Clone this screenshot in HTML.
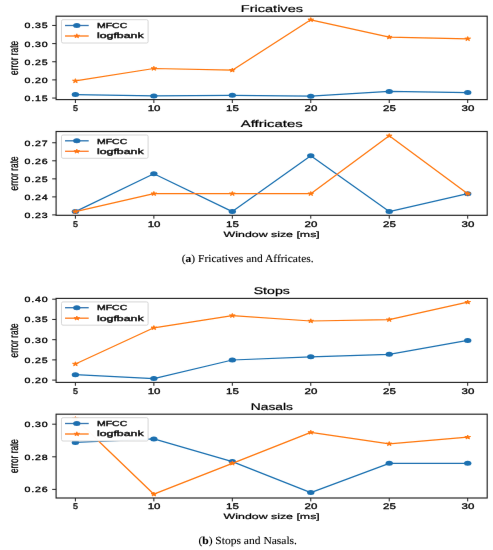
<!DOCTYPE html><html><head><meta charset="utf-8"><style>html,body{margin:0;padding:0;background:#fff;}svg{display:block;}text{text-rendering:geometricPrecision;font-family:"Liberation Sans",sans-serif;fill:#000;stroke:#000;stroke-width:0.25px;}.serif{font-family:"Liberation Serif",serif;}</style></head><body>
<svg width="493" height="550" viewBox="0 0 493 550">
<defs><filter id="bl" x="0" y="0" width="493" height="550" filterUnits="userSpaceOnUse"><feConvolveMatrix order="3" kernelMatrix="0.00087 0.02776 0.00087 0.02776 0.88549 0.02776 0.00087 0.02776 0.00087" edgeMode="none"/></filter></defs>
<rect width="493" height="550" fill="#fff"/><g filter="url(#bl)">
<g clip-path="none">
<polyline points="75.40,94.60 153.86,95.90 232.32,95.30 310.78,96.20 389.24,91.40 467.70,92.60" fill="none" stroke="#1a70b0" stroke-width="1.25" stroke-linejoin="round" stroke-linecap="butt"/>
<ellipse cx="75.40" cy="94.60" rx="3.70" ry="2.50" fill="#1a70b0"/>
<ellipse cx="153.86" cy="95.90" rx="3.70" ry="2.50" fill="#1a70b0"/>
<ellipse cx="232.32" cy="95.30" rx="3.70" ry="2.50" fill="#1a70b0"/>
<ellipse cx="310.78" cy="96.20" rx="3.70" ry="2.50" fill="#1a70b0"/>
<ellipse cx="389.24" cy="91.40" rx="3.70" ry="2.50" fill="#1a70b0"/>
<ellipse cx="467.70" cy="92.60" rx="3.70" ry="2.50" fill="#1a70b0"/>
<polyline points="75.40,80.90 153.86,68.50 232.32,70.20 310.78,19.80 389.24,37.10 467.70,38.80" fill="none" stroke="#ff760a" stroke-width="1.25" stroke-linejoin="round" stroke-linecap="butt"/>
<polygon points="75.40,78.70 76.07,80.22 78.25,80.22 76.49,81.16 77.16,82.68 75.40,81.74 73.64,82.68 74.31,81.16 72.55,80.22 74.73,80.22" fill="#ff760a" stroke="#ff760a" stroke-width="0.9" stroke-linejoin="round"/>
<polygon points="153.86,66.30 154.53,67.82 156.71,67.82 154.95,68.76 155.62,70.28 153.86,69.34 152.10,70.28 152.77,68.76 151.01,67.82 153.19,67.82" fill="#ff760a" stroke="#ff760a" stroke-width="0.9" stroke-linejoin="round"/>
<polygon points="232.32,68.00 232.99,69.52 235.17,69.52 233.41,70.46 234.08,71.98 232.32,71.04 230.56,71.98 231.23,70.46 229.47,69.52 231.65,69.52" fill="#ff760a" stroke="#ff760a" stroke-width="0.9" stroke-linejoin="round"/>
<polygon points="310.78,17.60 311.45,19.12 313.63,19.12 311.87,20.06 312.54,21.58 310.78,20.64 309.02,21.58 309.69,20.06 307.93,19.12 310.11,19.12" fill="#ff760a" stroke="#ff760a" stroke-width="0.9" stroke-linejoin="round"/>
<polygon points="389.24,34.90 389.91,36.42 392.09,36.42 390.33,37.36 391.00,38.88 389.24,37.94 387.48,38.88 388.15,37.36 386.39,36.42 388.57,36.42" fill="#ff760a" stroke="#ff760a" stroke-width="0.9" stroke-linejoin="round"/>
<polygon points="467.70,36.60 468.37,38.12 470.55,38.12 468.79,39.06 469.46,40.58 467.70,39.64 465.94,40.58 466.61,39.06 464.85,38.12 467.03,38.12" fill="#ff760a" stroke="#ff760a" stroke-width="0.9" stroke-linejoin="round"/>
</g>
<rect x="61.5" y="19.70" width="86.6" height="23.3" rx="1.5" fill="#fff" fill-opacity="0.97" stroke="#cccccc" stroke-width="0.8"/>
<line x1="65" y1="25.50" x2="88.7" y2="25.50" stroke="#1a70b0" stroke-width="1.3"/>
<ellipse cx="76.80" cy="25.50" rx="3.70" ry="2.50" fill="#1a70b0"/>
<line x1="65" y1="36.00" x2="88.7" y2="36.00" stroke="#ff760a" stroke-width="1.3"/>
<polygon points="76.80,33.80 77.47,35.32 79.65,35.32 77.89,36.26 78.56,37.78 76.80,36.84 75.04,37.78 75.71,36.26 73.95,35.32 76.13,35.32" fill="#ff760a" stroke="#ff760a" stroke-width="0.9" stroke-linejoin="round"/>
<text x="97.00" y="28.20" font-size="7.30" text-anchor="start" textLength="30.20" lengthAdjust="spacingAndGlyphs" style="stroke-width:0.4px">MFCC</text>
<text x="97.00" y="38.40" font-size="7.50" text-anchor="start" textLength="46.60" lengthAdjust="spacingAndGlyphs" style="stroke-width:0.4px">logfbank</text>
<rect x="56.10" y="16.20" width="431.10" height="83.40" fill="none" stroke="#222" stroke-width="1.15"/>
<line x1="52.2" y1="25.45" x2="56.10" y2="25.45" stroke="#222" stroke-width="1.0"/>
<text transform="translate(24.60,28.45) scale(1.380,1)" x="0" y="0" font-size="7.70" textLength="16.67" lengthAdjust="spacing" style="stroke-width:0.32px">0.35</text>
<line x1="52.2" y1="43.60" x2="56.10" y2="43.60" stroke="#222" stroke-width="1.0"/>
<text transform="translate(24.60,46.60) scale(1.380,1)" x="0" y="0" font-size="7.70" textLength="16.67" lengthAdjust="spacing" style="stroke-width:0.32px">0.30</text>
<line x1="52.2" y1="61.75" x2="56.10" y2="61.75" stroke="#222" stroke-width="1.0"/>
<text transform="translate(24.60,64.75) scale(1.380,1)" x="0" y="0" font-size="7.70" textLength="16.67" lengthAdjust="spacing" style="stroke-width:0.32px">0.25</text>
<line x1="52.2" y1="79.90" x2="56.10" y2="79.90" stroke="#222" stroke-width="1.0"/>
<text transform="translate(24.60,82.90) scale(1.380,1)" x="0" y="0" font-size="7.70" textLength="16.67" lengthAdjust="spacing" style="stroke-width:0.32px">0.20</text>
<line x1="52.2" y1="98.05" x2="56.10" y2="98.05" stroke="#222" stroke-width="1.0"/>
<text transform="translate(24.60,101.05) scale(1.380,1)" x="0" y="0" font-size="7.70" textLength="16.67" lengthAdjust="spacing" style="stroke-width:0.32px">0.15</text>
<line x1="75.40" y1="99.60" x2="75.40" y2="103.00" stroke="#222" stroke-width="1.0"/>
<text x="73.10" y="110.80" font-size="8.20" text-anchor="start" textLength="5.00" lengthAdjust="spacingAndGlyphs" style="stroke-width:0.3px">5</text>
<line x1="153.86" y1="99.60" x2="153.86" y2="103.00" stroke="#222" stroke-width="1.0"/>
<text x="147.66" y="110.80" font-size="8.20" text-anchor="start" textLength="12.80" lengthAdjust="spacingAndGlyphs" style="stroke-width:0.3px">10</text>
<line x1="232.32" y1="99.60" x2="232.32" y2="103.00" stroke="#222" stroke-width="1.0"/>
<text x="226.12" y="110.80" font-size="8.20" text-anchor="start" textLength="12.80" lengthAdjust="spacingAndGlyphs" style="stroke-width:0.3px">15</text>
<line x1="310.78" y1="99.60" x2="310.78" y2="103.00" stroke="#222" stroke-width="1.0"/>
<text x="304.58" y="110.80" font-size="8.20" text-anchor="start" textLength="12.80" lengthAdjust="spacingAndGlyphs" style="stroke-width:0.3px">20</text>
<line x1="389.24" y1="99.60" x2="389.24" y2="103.00" stroke="#222" stroke-width="1.0"/>
<text x="383.04" y="110.80" font-size="8.20" text-anchor="start" textLength="12.80" lengthAdjust="spacingAndGlyphs" style="stroke-width:0.3px">25</text>
<line x1="467.70" y1="99.60" x2="467.70" y2="103.00" stroke="#222" stroke-width="1.0"/>
<text x="461.50" y="110.80" font-size="8.20" text-anchor="start" textLength="12.80" lengthAdjust="spacingAndGlyphs" style="stroke-width:0.3px">30</text>
<text x="240.80" y="11.60" font-size="9.80" text-anchor="start" textLength="62.20" lengthAdjust="spacingAndGlyphs" style="stroke-width:0.2px">Fricatives</text>
<text transform="translate(17.8,57.90) rotate(-90)" x="0" y="0" font-size="12.2" text-anchor="middle" style="stroke-width:0.3px" textLength="34" lengthAdjust="spacingAndGlyphs">error rate</text>
<g clip-path="none">
<polyline points="75.40,211.60 153.86,173.80 232.32,211.60 310.78,155.80 389.24,211.60 467.70,193.70" fill="none" stroke="#1a70b0" stroke-width="1.25" stroke-linejoin="round" stroke-linecap="butt"/>
<ellipse cx="75.40" cy="211.60" rx="3.70" ry="2.50" fill="#1a70b0"/>
<ellipse cx="153.86" cy="173.80" rx="3.70" ry="2.50" fill="#1a70b0"/>
<ellipse cx="232.32" cy="211.60" rx="3.70" ry="2.50" fill="#1a70b0"/>
<ellipse cx="310.78" cy="155.80" rx="3.70" ry="2.50" fill="#1a70b0"/>
<ellipse cx="389.24" cy="211.60" rx="3.70" ry="2.50" fill="#1a70b0"/>
<ellipse cx="467.70" cy="193.70" rx="3.70" ry="2.50" fill="#1a70b0"/>
<polyline points="75.40,211.60 153.86,193.70 232.32,193.70 310.78,193.70 389.24,135.80 467.70,193.70" fill="none" stroke="#ff760a" stroke-width="1.25" stroke-linejoin="round" stroke-linecap="butt"/>
<polygon points="75.40,209.40 76.07,210.92 78.25,210.92 76.49,211.86 77.16,213.38 75.40,212.44 73.64,213.38 74.31,211.86 72.55,210.92 74.73,210.92" fill="#ff760a" stroke="#ff760a" stroke-width="0.9" stroke-linejoin="round"/>
<polygon points="153.86,191.50 154.53,193.02 156.71,193.02 154.95,193.96 155.62,195.48 153.86,194.54 152.10,195.48 152.77,193.96 151.01,193.02 153.19,193.02" fill="#ff760a" stroke="#ff760a" stroke-width="0.9" stroke-linejoin="round"/>
<polygon points="232.32,191.50 232.99,193.02 235.17,193.02 233.41,193.96 234.08,195.48 232.32,194.54 230.56,195.48 231.23,193.96 229.47,193.02 231.65,193.02" fill="#ff760a" stroke="#ff760a" stroke-width="0.9" stroke-linejoin="round"/>
<polygon points="310.78,191.50 311.45,193.02 313.63,193.02 311.87,193.96 312.54,195.48 310.78,194.54 309.02,195.48 309.69,193.96 307.93,193.02 310.11,193.02" fill="#ff760a" stroke="#ff760a" stroke-width="0.9" stroke-linejoin="round"/>
<polygon points="389.24,133.60 389.91,135.12 392.09,135.12 390.33,136.06 391.00,137.58 389.24,136.64 387.48,137.58 388.15,136.06 386.39,135.12 388.57,135.12" fill="#ff760a" stroke="#ff760a" stroke-width="0.9" stroke-linejoin="round"/>
<polygon points="467.70,191.50 468.37,193.02 470.55,193.02 468.79,193.96 469.46,195.48 467.70,194.54 465.94,195.48 466.61,193.96 464.85,193.02 467.03,193.02" fill="#ff760a" stroke="#ff760a" stroke-width="0.9" stroke-linejoin="round"/>
</g>
<rect x="61.5" y="135.00" width="86.6" height="23.3" rx="1.5" fill="#fff" fill-opacity="0.97" stroke="#cccccc" stroke-width="0.8"/>
<line x1="65" y1="140.80" x2="88.7" y2="140.80" stroke="#1a70b0" stroke-width="1.3"/>
<ellipse cx="76.80" cy="140.80" rx="3.70" ry="2.50" fill="#1a70b0"/>
<line x1="65" y1="151.30" x2="88.7" y2="151.30" stroke="#ff760a" stroke-width="1.3"/>
<polygon points="76.80,149.10 77.47,150.62 79.65,150.62 77.89,151.56 78.56,153.08 76.80,152.14 75.04,153.08 75.71,151.56 73.95,150.62 76.13,150.62" fill="#ff760a" stroke="#ff760a" stroke-width="0.9" stroke-linejoin="round"/>
<text x="97.00" y="143.50" font-size="7.30" text-anchor="start" textLength="30.20" lengthAdjust="spacingAndGlyphs" style="stroke-width:0.4px">MFCC</text>
<text x="97.00" y="153.70" font-size="7.50" text-anchor="start" textLength="46.60" lengthAdjust="spacingAndGlyphs" style="stroke-width:0.4px">logfbank</text>
<rect x="56.10" y="131.50" width="431.10" height="83.80" fill="none" stroke="#222" stroke-width="1.15"/>
<line x1="52.2" y1="142.75" x2="56.10" y2="142.75" stroke="#222" stroke-width="1.0"/>
<text transform="translate(24.60,145.75) scale(1.380,1)" x="0" y="0" font-size="7.70" textLength="16.67" lengthAdjust="spacing" style="stroke-width:0.32px">0.27</text>
<line x1="52.2" y1="160.80" x2="56.10" y2="160.80" stroke="#222" stroke-width="1.0"/>
<text transform="translate(24.60,163.80) scale(1.380,1)" x="0" y="0" font-size="7.70" textLength="16.67" lengthAdjust="spacing" style="stroke-width:0.32px">0.26</text>
<line x1="52.2" y1="178.85" x2="56.10" y2="178.85" stroke="#222" stroke-width="1.0"/>
<text transform="translate(24.60,181.85) scale(1.380,1)" x="0" y="0" font-size="7.70" textLength="16.67" lengthAdjust="spacing" style="stroke-width:0.32px">0.25</text>
<line x1="52.2" y1="196.90" x2="56.10" y2="196.90" stroke="#222" stroke-width="1.0"/>
<text transform="translate(24.60,199.90) scale(1.380,1)" x="0" y="0" font-size="7.70" textLength="16.67" lengthAdjust="spacing" style="stroke-width:0.32px">0.24</text>
<line x1="52.2" y1="214.90" x2="56.10" y2="214.90" stroke="#222" stroke-width="1.0"/>
<text transform="translate(24.60,217.90) scale(1.380,1)" x="0" y="0" font-size="7.70" textLength="16.67" lengthAdjust="spacing" style="stroke-width:0.32px">0.23</text>
<line x1="75.40" y1="215.30" x2="75.40" y2="218.70" stroke="#222" stroke-width="1.0"/>
<text x="73.10" y="226.50" font-size="8.20" text-anchor="start" textLength="5.00" lengthAdjust="spacingAndGlyphs" style="stroke-width:0.3px">5</text>
<line x1="153.86" y1="215.30" x2="153.86" y2="218.70" stroke="#222" stroke-width="1.0"/>
<text x="147.66" y="226.50" font-size="8.20" text-anchor="start" textLength="12.80" lengthAdjust="spacingAndGlyphs" style="stroke-width:0.3px">10</text>
<line x1="232.32" y1="215.30" x2="232.32" y2="218.70" stroke="#222" stroke-width="1.0"/>
<text x="226.12" y="226.50" font-size="8.20" text-anchor="start" textLength="12.80" lengthAdjust="spacingAndGlyphs" style="stroke-width:0.3px">15</text>
<line x1="310.78" y1="215.30" x2="310.78" y2="218.70" stroke="#222" stroke-width="1.0"/>
<text x="304.58" y="226.50" font-size="8.20" text-anchor="start" textLength="12.80" lengthAdjust="spacingAndGlyphs" style="stroke-width:0.3px">20</text>
<line x1="389.24" y1="215.30" x2="389.24" y2="218.70" stroke="#222" stroke-width="1.0"/>
<text x="383.04" y="226.50" font-size="8.20" text-anchor="start" textLength="12.80" lengthAdjust="spacingAndGlyphs" style="stroke-width:0.3px">25</text>
<line x1="467.70" y1="215.30" x2="467.70" y2="218.70" stroke="#222" stroke-width="1.0"/>
<text x="461.50" y="226.50" font-size="8.20" text-anchor="start" textLength="12.80" lengthAdjust="spacingAndGlyphs" style="stroke-width:0.3px">30</text>
<text x="240.80" y="127.35" font-size="9.80" text-anchor="start" textLength="61.90" lengthAdjust="spacingAndGlyphs" style="stroke-width:0.2px">Affricates</text>
<text transform="translate(17.8,173.40) rotate(-90)" x="0" y="0" font-size="12.2" text-anchor="middle" style="stroke-width:0.3px" textLength="34" lengthAdjust="spacingAndGlyphs">error rate</text>
<text x="223.60" y="236.70" font-size="7.70" text-anchor="start" textLength="96.20" lengthAdjust="spacingAndGlyphs" style="stroke-width:0.22px">Window size [ms]</text>
<g clip-path="none">
<polyline points="75.40,374.70 153.86,378.60 232.32,360.00 310.78,356.80 389.24,354.30 467.70,340.40" fill="none" stroke="#1a70b0" stroke-width="1.25" stroke-linejoin="round" stroke-linecap="butt"/>
<ellipse cx="75.40" cy="374.70" rx="3.70" ry="2.50" fill="#1a70b0"/>
<ellipse cx="153.86" cy="378.60" rx="3.70" ry="2.50" fill="#1a70b0"/>
<ellipse cx="232.32" cy="360.00" rx="3.70" ry="2.50" fill="#1a70b0"/>
<ellipse cx="310.78" cy="356.80" rx="3.70" ry="2.50" fill="#1a70b0"/>
<ellipse cx="389.24" cy="354.30" rx="3.70" ry="2.50" fill="#1a70b0"/>
<ellipse cx="467.70" cy="340.40" rx="3.70" ry="2.50" fill="#1a70b0"/>
<polyline points="75.40,364.00 153.86,327.80 232.32,315.60 310.78,321.00 389.24,319.70 467.70,302.20" fill="none" stroke="#ff760a" stroke-width="1.25" stroke-linejoin="round" stroke-linecap="butt"/>
<polygon points="75.40,361.80 76.07,363.32 78.25,363.32 76.49,364.26 77.16,365.78 75.40,364.84 73.64,365.78 74.31,364.26 72.55,363.32 74.73,363.32" fill="#ff760a" stroke="#ff760a" stroke-width="0.9" stroke-linejoin="round"/>
<polygon points="153.86,325.60 154.53,327.12 156.71,327.12 154.95,328.06 155.62,329.58 153.86,328.64 152.10,329.58 152.77,328.06 151.01,327.12 153.19,327.12" fill="#ff760a" stroke="#ff760a" stroke-width="0.9" stroke-linejoin="round"/>
<polygon points="232.32,313.40 232.99,314.92 235.17,314.92 233.41,315.86 234.08,317.38 232.32,316.44 230.56,317.38 231.23,315.86 229.47,314.92 231.65,314.92" fill="#ff760a" stroke="#ff760a" stroke-width="0.9" stroke-linejoin="round"/>
<polygon points="310.78,318.80 311.45,320.32 313.63,320.32 311.87,321.26 312.54,322.78 310.78,321.84 309.02,322.78 309.69,321.26 307.93,320.32 310.11,320.32" fill="#ff760a" stroke="#ff760a" stroke-width="0.9" stroke-linejoin="round"/>
<polygon points="389.24,317.50 389.91,319.02 392.09,319.02 390.33,319.96 391.00,321.48 389.24,320.54 387.48,321.48 388.15,319.96 386.39,319.02 388.57,319.02" fill="#ff760a" stroke="#ff760a" stroke-width="0.9" stroke-linejoin="round"/>
<polygon points="467.70,300.00 468.37,301.52 470.55,301.52 468.79,302.46 469.46,303.98 467.70,303.04 465.94,303.98 466.61,302.46 464.85,301.52 467.03,301.52" fill="#ff760a" stroke="#ff760a" stroke-width="0.9" stroke-linejoin="round"/>
</g>
<rect x="61.5" y="301.90" width="86.6" height="23.3" rx="1.5" fill="#fff" fill-opacity="0.97" stroke="#cccccc" stroke-width="0.8"/>
<line x1="65" y1="307.70" x2="88.7" y2="307.70" stroke="#1a70b0" stroke-width="1.3"/>
<ellipse cx="76.80" cy="307.70" rx="3.70" ry="2.50" fill="#1a70b0"/>
<line x1="65" y1="318.20" x2="88.7" y2="318.20" stroke="#ff760a" stroke-width="1.3"/>
<polygon points="76.80,316.00 77.47,317.52 79.65,317.52 77.89,318.46 78.56,319.98 76.80,319.04 75.04,319.98 75.71,318.46 73.95,317.52 76.13,317.52" fill="#ff760a" stroke="#ff760a" stroke-width="0.9" stroke-linejoin="round"/>
<text x="97.00" y="310.40" font-size="7.30" text-anchor="start" textLength="30.20" lengthAdjust="spacingAndGlyphs" style="stroke-width:0.4px">MFCC</text>
<text x="97.00" y="320.60" font-size="7.50" text-anchor="start" textLength="46.60" lengthAdjust="spacingAndGlyphs" style="stroke-width:0.4px">logfbank</text>
<rect x="56.10" y="298.40" width="431.10" height="84.00" fill="none" stroke="#222" stroke-width="1.15"/>
<line x1="52.2" y1="299.20" x2="56.10" y2="299.20" stroke="#222" stroke-width="1.0"/>
<text transform="translate(24.60,302.20) scale(1.380,1)" x="0" y="0" font-size="7.70" textLength="16.67" lengthAdjust="spacing" style="stroke-width:0.32px">0.40</text>
<line x1="52.2" y1="319.45" x2="56.10" y2="319.45" stroke="#222" stroke-width="1.0"/>
<text transform="translate(24.60,322.45) scale(1.380,1)" x="0" y="0" font-size="7.70" textLength="16.67" lengthAdjust="spacing" style="stroke-width:0.32px">0.35</text>
<line x1="52.2" y1="339.70" x2="56.10" y2="339.70" stroke="#222" stroke-width="1.0"/>
<text transform="translate(24.60,342.70) scale(1.380,1)" x="0" y="0" font-size="7.70" textLength="16.67" lengthAdjust="spacing" style="stroke-width:0.32px">0.30</text>
<line x1="52.2" y1="359.90" x2="56.10" y2="359.90" stroke="#222" stroke-width="1.0"/>
<text transform="translate(24.60,362.90) scale(1.380,1)" x="0" y="0" font-size="7.70" textLength="16.67" lengthAdjust="spacing" style="stroke-width:0.32px">0.25</text>
<line x1="52.2" y1="380.10" x2="56.10" y2="380.10" stroke="#222" stroke-width="1.0"/>
<text transform="translate(24.60,383.10) scale(1.380,1)" x="0" y="0" font-size="7.70" textLength="16.67" lengthAdjust="spacing" style="stroke-width:0.32px">0.20</text>
<line x1="75.40" y1="382.40" x2="75.40" y2="385.80" stroke="#222" stroke-width="1.0"/>
<text x="73.10" y="393.60" font-size="8.20" text-anchor="start" textLength="5.00" lengthAdjust="spacingAndGlyphs" style="stroke-width:0.3px">5</text>
<line x1="153.86" y1="382.40" x2="153.86" y2="385.80" stroke="#222" stroke-width="1.0"/>
<text x="147.66" y="393.60" font-size="8.20" text-anchor="start" textLength="12.80" lengthAdjust="spacingAndGlyphs" style="stroke-width:0.3px">10</text>
<line x1="232.32" y1="382.40" x2="232.32" y2="385.80" stroke="#222" stroke-width="1.0"/>
<text x="226.12" y="393.60" font-size="8.20" text-anchor="start" textLength="12.80" lengthAdjust="spacingAndGlyphs" style="stroke-width:0.3px">15</text>
<line x1="310.78" y1="382.40" x2="310.78" y2="385.80" stroke="#222" stroke-width="1.0"/>
<text x="304.58" y="393.60" font-size="8.20" text-anchor="start" textLength="12.80" lengthAdjust="spacingAndGlyphs" style="stroke-width:0.3px">20</text>
<line x1="389.24" y1="382.40" x2="389.24" y2="385.80" stroke="#222" stroke-width="1.0"/>
<text x="383.04" y="393.60" font-size="8.20" text-anchor="start" textLength="12.80" lengthAdjust="spacingAndGlyphs" style="stroke-width:0.3px">25</text>
<line x1="467.70" y1="382.40" x2="467.70" y2="385.80" stroke="#222" stroke-width="1.0"/>
<text x="461.50" y="393.60" font-size="8.20" text-anchor="start" textLength="12.80" lengthAdjust="spacingAndGlyphs" style="stroke-width:0.3px">30</text>
<text x="253.70" y="294.10" font-size="9.80" text-anchor="start" textLength="36.15" lengthAdjust="spacingAndGlyphs" style="stroke-width:0.2px">Stops</text>
<text transform="translate(17.8,340.40) rotate(-90)" x="0" y="0" font-size="12.2" text-anchor="middle" style="stroke-width:0.3px" textLength="34" lengthAdjust="spacingAndGlyphs">error rate</text>
<g clip-path="none">
<polyline points="75.40,442.40 153.86,438.90 232.32,461.60 310.78,492.60 389.24,463.30 467.70,463.30" fill="none" stroke="#1a70b0" stroke-width="1.25" stroke-linejoin="round" stroke-linecap="butt"/>
<ellipse cx="75.40" cy="442.40" rx="3.70" ry="2.50" fill="#1a70b0"/>
<ellipse cx="153.86" cy="438.90" rx="3.70" ry="2.50" fill="#1a70b0"/>
<ellipse cx="232.32" cy="461.60" rx="3.70" ry="2.50" fill="#1a70b0"/>
<ellipse cx="310.78" cy="492.60" rx="3.70" ry="2.50" fill="#1a70b0"/>
<ellipse cx="389.24" cy="463.30" rx="3.70" ry="2.50" fill="#1a70b0"/>
<ellipse cx="467.70" cy="463.30" rx="3.70" ry="2.50" fill="#1a70b0"/>
<polyline points="75.40,418.80 153.86,494.20 232.32,463.30 310.78,432.40 389.24,443.80 467.70,437.20" fill="none" stroke="#ff760a" stroke-width="1.25" stroke-linejoin="round" stroke-linecap="butt"/>
<polygon points="75.40,416.60 76.07,418.12 78.25,418.12 76.49,419.06 77.16,420.58 75.40,419.64 73.64,420.58 74.31,419.06 72.55,418.12 74.73,418.12" fill="#ff760a" stroke="#ff760a" stroke-width="0.9" stroke-linejoin="round"/>
<polygon points="153.86,492.00 154.53,493.52 156.71,493.52 154.95,494.46 155.62,495.98 153.86,495.04 152.10,495.98 152.77,494.46 151.01,493.52 153.19,493.52" fill="#ff760a" stroke="#ff760a" stroke-width="0.9" stroke-linejoin="round"/>
<polygon points="232.32,461.10 232.99,462.62 235.17,462.62 233.41,463.56 234.08,465.08 232.32,464.14 230.56,465.08 231.23,463.56 229.47,462.62 231.65,462.62" fill="#ff760a" stroke="#ff760a" stroke-width="0.9" stroke-linejoin="round"/>
<polygon points="310.78,430.20 311.45,431.72 313.63,431.72 311.87,432.66 312.54,434.18 310.78,433.24 309.02,434.18 309.69,432.66 307.93,431.72 310.11,431.72" fill="#ff760a" stroke="#ff760a" stroke-width="0.9" stroke-linejoin="round"/>
<polygon points="389.24,441.60 389.91,443.12 392.09,443.12 390.33,444.06 391.00,445.58 389.24,444.64 387.48,445.58 388.15,444.06 386.39,443.12 388.57,443.12" fill="#ff760a" stroke="#ff760a" stroke-width="0.9" stroke-linejoin="round"/>
<polygon points="467.70,435.00 468.37,436.52 470.55,436.52 468.79,437.46 469.46,438.98 467.70,438.04 465.94,438.98 466.61,437.46 464.85,436.52 467.03,436.52" fill="#ff760a" stroke="#ff760a" stroke-width="0.9" stroke-linejoin="round"/>
</g>
<rect x="61.5" y="417.70" width="86.6" height="23.3" rx="1.5" fill="#fff" fill-opacity="0.97" stroke="#cccccc" stroke-width="0.8"/>
<line x1="65" y1="423.50" x2="88.7" y2="423.50" stroke="#1a70b0" stroke-width="1.3"/>
<ellipse cx="76.80" cy="423.50" rx="3.70" ry="2.50" fill="#1a70b0"/>
<line x1="65" y1="434.00" x2="88.7" y2="434.00" stroke="#ff760a" stroke-width="1.3"/>
<polygon points="76.80,431.80 77.47,433.32 79.65,433.32 77.89,434.26 78.56,435.78 76.80,434.84 75.04,435.78 75.71,434.26 73.95,433.32 76.13,433.32" fill="#ff760a" stroke="#ff760a" stroke-width="0.9" stroke-linejoin="round"/>
<text x="97.00" y="426.20" font-size="7.30" text-anchor="start" textLength="30.20" lengthAdjust="spacingAndGlyphs" style="stroke-width:0.4px">MFCC</text>
<text x="97.00" y="436.40" font-size="7.50" text-anchor="start" textLength="46.60" lengthAdjust="spacingAndGlyphs" style="stroke-width:0.4px">logfbank</text>
<rect x="56.10" y="414.20" width="431.10" height="83.80" fill="none" stroke="#222" stroke-width="1.15"/>
<line x1="52.2" y1="424.20" x2="56.10" y2="424.20" stroke="#222" stroke-width="1.0"/>
<text transform="translate(24.60,427.20) scale(1.380,1)" x="0" y="0" font-size="7.70" textLength="16.67" lengthAdjust="spacing" style="stroke-width:0.32px">0.30</text>
<line x1="52.2" y1="456.80" x2="56.10" y2="456.80" stroke="#222" stroke-width="1.0"/>
<text transform="translate(24.60,459.80) scale(1.380,1)" x="0" y="0" font-size="7.70" textLength="16.67" lengthAdjust="spacing" style="stroke-width:0.32px">0.28</text>
<line x1="52.2" y1="489.40" x2="56.10" y2="489.40" stroke="#222" stroke-width="1.0"/>
<text transform="translate(24.60,492.40) scale(1.380,1)" x="0" y="0" font-size="7.70" textLength="16.67" lengthAdjust="spacing" style="stroke-width:0.32px">0.26</text>
<line x1="75.40" y1="498.00" x2="75.40" y2="501.40" stroke="#222" stroke-width="1.0"/>
<text x="73.10" y="509.20" font-size="8.20" text-anchor="start" textLength="5.00" lengthAdjust="spacingAndGlyphs" style="stroke-width:0.3px">5</text>
<line x1="153.86" y1="498.00" x2="153.86" y2="501.40" stroke="#222" stroke-width="1.0"/>
<text x="147.66" y="509.20" font-size="8.20" text-anchor="start" textLength="12.80" lengthAdjust="spacingAndGlyphs" style="stroke-width:0.3px">10</text>
<line x1="232.32" y1="498.00" x2="232.32" y2="501.40" stroke="#222" stroke-width="1.0"/>
<text x="226.12" y="509.20" font-size="8.20" text-anchor="start" textLength="12.80" lengthAdjust="spacingAndGlyphs" style="stroke-width:0.3px">15</text>
<line x1="310.78" y1="498.00" x2="310.78" y2="501.40" stroke="#222" stroke-width="1.0"/>
<text x="304.58" y="509.20" font-size="8.20" text-anchor="start" textLength="12.80" lengthAdjust="spacingAndGlyphs" style="stroke-width:0.3px">20</text>
<line x1="389.24" y1="498.00" x2="389.24" y2="501.40" stroke="#222" stroke-width="1.0"/>
<text x="383.04" y="509.20" font-size="8.20" text-anchor="start" textLength="12.80" lengthAdjust="spacingAndGlyphs" style="stroke-width:0.3px">25</text>
<line x1="467.70" y1="498.00" x2="467.70" y2="501.40" stroke="#222" stroke-width="1.0"/>
<text x="461.50" y="509.20" font-size="8.20" text-anchor="start" textLength="12.80" lengthAdjust="spacingAndGlyphs" style="stroke-width:0.3px">30</text>
<text x="250.80" y="409.60" font-size="9.80" text-anchor="start" textLength="42.20" lengthAdjust="spacingAndGlyphs" style="stroke-width:0.2px">Nasals</text>
<text transform="translate(17.8,456.10) rotate(-90)" x="0" y="0" font-size="12.2" text-anchor="middle" style="stroke-width:0.3px" textLength="34" lengthAdjust="spacingAndGlyphs">error rate</text>
<text x="223.60" y="519.40" font-size="7.70" text-anchor="start" textLength="96.20" lengthAdjust="spacingAndGlyphs" style="stroke-width:0.22px">Window size [ms]</text>
<text class="serif" style="stroke-width:0.1px" x="181.8" y="262.2" font-size="10.8" textLength="131.8" lengthAdjust="spacingAndGlyphs">(<tspan font-weight="bold">a</tspan>) Fricatives and Affricates.</text>
<text class="serif" style="stroke-width:0.1px" x="198.4" y="544.3" font-size="10.8" textLength="98.6" lengthAdjust="spacingAndGlyphs">(<tspan font-weight="bold">b</tspan>) Stops and Nasals.</text>
</g></svg></body></html>
